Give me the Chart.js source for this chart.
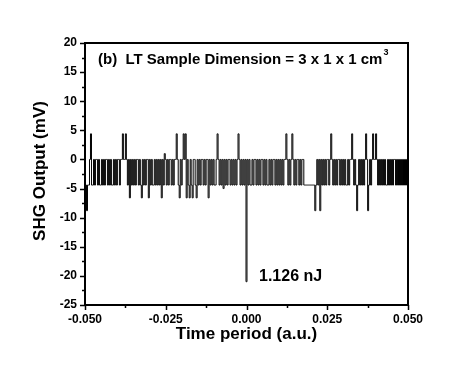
<!DOCTYPE html>
<html>
<head>
<meta charset="utf-8">
<script src="https://cdn.jsdelivr.net/npm/chart.js@4.4.1/dist/chart.umd.min.js"></script>
<style>
  html, body { margin: 0; padding: 0; background: #fff; }
  #wrap { width: 474px; height: 366px; }
</style>
</head>
<body>
<div id="wrap"><canvas id="chart" width="474" height="366"></canvas></div>
<script>
const shgOutput = [
  0, -4.4, -8.8, -4.4, -4.4, 0, 4.4, -4.4, -4.4, 0, -4.4, 0, 0, -4.4, 0, -4.4, -4.4, 0, -4.4, 0, -4.4, 0, 0, -4.4, 0,
  -4.4, 0, -4.4, -4.4, 0, -4.4, 0, -4.4, 0, 0, -4.4, 0, 0, 4.4, 0, 0, 4.4, 0, -4.4, 0, -6.6, 0, -4.4, 0, -4.4,
  0, -4.4, 0, 0, -4.4, 0, -4.4, -6.6, 0, -4.4, 0, -4.4, 0, 0, -6.6, 0, -4.4, 0, -4.4, -4.4, 0, -4.4, 0, -4.4, 0,
  -4.4, 0, -6.6, 0, -4.4, 1, 0, -4.4, 0, -4.4, 0, 0, -4.4, 0, -4.4, 0, 0, 4.4, 0, -4.4, -6.6, 0, -4.4, 0, 4.4,
  0, 4.4, -6.6, 0, -4.4, -6.6, 0, -4.4, -6.6, 0, 0, -4.4, -6.6, 0, -4.4, 0, -4.4, 0, 0, -4.4, 0, -4.4, 0, 0, -6.6,
  0, -4.4, 0, -4.4, 0, -4.4, -4.4, 0, 4.4, 0, -4.4, 0, -4.4, 0, -5, 0, -4.4, 0, -4.4, 0, 0, -4.4, 0, -4.4, 0,
  -4.4, 0, -4.4, 0, 4.4, 0, -4.4, 0, -4.4, 0, -4.4, 0, -21, 0, -4.4, 0, -4.4, -4.4, 0, -4.4, 0, 0, -4.4, 0, -4.4,
  0, -4.4, 0, 0, -4.4, 0, -4.4, 0, -4.4, -4.4, 0, -4.4, 0, -4.4, 0, 0, -4.4, 0, -4.4, 0, -4.4, 0, -4.4, 0, -4.4,
  0, 0, 4.4, 0, -4.4, 0, -4.4, 0, 4.4, 0, -4.4, 0, -4.4, 0, 0, -4.4, 0, -4.4, 0, 0, -4.4, -4.4, -4.4, -4.4, -4.4,
  -4.4, -4.4, -4.4, -4.4, -4.4, -4.4, -8.8, -4.4, 0, -4.4, 0, -8.8, 0, -4.4, 0, -4.4, 0, -4.4, 0, 0, -4.4, 0, 4.4, 0, -4.4,
  0, -4.4, 0, -4.4, 0, 0, -4.4, 0, -4.4, 0, -4.4, 0, -4.4, -4.4, 0, -4.4, 0, 0, 4.4, 0, -4.4, 0, -4.4, -8.8, -4.4,
  0, -4.4, 0, -4.4, 0, -4.4, 0, 4.4, 0, -8.8, -4.4, 0, -4.4, 0, 4.4, 0, 0, 4.4, 0, -4.4, 0, -4.4, 0, -4.4, 0,
  -4.4, 0, -4.4, -4.4, 0, -4.4, 0, -4.4, 0, -4.4, 0, 0, -4.4, 0, -4.4, 0, -4.4, 0, -4.4, 0, -4.4, 0, -4.4, 0, -4.4
];
const timeStart = -0.05;
const timeStep = 0.1 / (shgOutput.length - 1);

const xTicks = [-0.05, -0.025, 0, 0.025, 0.05];
const xMinorTicks = [-0.0375, -0.0125, 0.0125, 0.0375];
const yTicks = [-25, -20, -15, -10, -5, 0, 5, 10, 15, 20];
const yMinorTicks = [-22.5, -17.5, -12.5, -7.5, -2.5, 2.5, 7.5, 12.5, 17.5];

const FONT = '"Liberation Sans", Arial, sans-serif';

const points = shgOutput.map((v, i) => ({ x: timeStart + i * timeStep, y: v }));

const framePlugin = {
    id: 'frame',
    afterDraw(chart) {
        const { ctx, chartArea: a, scales } = chart;
        const sx = scales.x;
        const sy = scales.y;
        ctx.save();
        ctx.strokeStyle = '#000';
        ctx.lineWidth = 2;
        ctx.strokeRect(a.left, a.top, a.right - a.left, a.bottom - a.top);

        ctx.lineWidth = 1.5;
        ctx.beginPath();
        yTicks.forEach((v) => {
            const p = Math.round(sy.getPixelForValue(v)) + 0.5;
            ctx.moveTo(a.left - 5, p);
            ctx.lineTo(a.left, p);
        });
        yMinorTicks.forEach((v) => {
            const p = Math.round(sy.getPixelForValue(v)) + 0.5;
            ctx.moveTo(a.left - 3, p);
            ctx.lineTo(a.left, p);
        });
        xTicks.forEach((v) => {
            const p = Math.round(sx.getPixelForValue(v)) + 0.5;
            ctx.moveTo(p, a.bottom);
            ctx.lineTo(p, a.bottom + 5);
        });
        xMinorTicks.forEach((v) => {
            const p = Math.round(sx.getPixelForValue(v)) + 0.5;
            ctx.moveTo(p, a.bottom);
            ctx.lineTo(p, a.bottom + 3);
        });
        ctx.stroke();

        ctx.fillStyle = '#000';
        ctx.textBaseline = 'middle';

        // axis titles
        ctx.font = 'bold 17px ' + FONT;
        ctx.textAlign = 'center';
        ctx.fillText('Time period (a.u.)', (a.left + a.right) / 2, 334);
        ctx.save();
        ctx.translate(40, 171);
        ctx.rotate(-Math.PI / 2);
        ctx.fillText('SHG Output (mV)', 0, 0);
        ctx.restore();

        // panel label
        ctx.textAlign = 'left';
        ctx.font = 'bold 15px ' + FONT;
        const label = '(b)  LT Sample Dimension = 3 x 1 x 1 cm';
        ctx.fillText(label, 98, 60);
        const w = ctx.measureText(label).width;
        ctx.font = 'bold 9px ' + FONT;
        ctx.fillText('3', 98 + w + 1, 53);

        // pulse energy
        ctx.font = 'bold 16px ' + FONT;
        ctx.fillText('1.126 nJ', 259, 277);
        ctx.restore();
    },
};

new Chart(document.getElementById('chart'), {
    type: 'line',
    data: {
        datasets: [
            {
                data: points,
                borderColor: '#000',
                borderWidth: 1,
                pointRadius: 0,
                stepped: 'middle',
                fill: false,
            },
        ],
    },
    options: {
        responsive: false,
        animation: false,
        events: [],
        layout: { padding: { top: 43, right: 66, left: 0, bottom: 0 } },
        plugins: { legend: { display: false }, tooltip: { enabled: false } },
        scales: {
            x: {
                type: 'linear',
                min: -0.05,
                max: 0.05,
                afterFit: (s) => { s.height = 61; },
                afterBuildTicks: (s) => { s.ticks = xTicks.map((v) => ({ value: v })); },
                grid: { color: 'transparent', drawOnChartArea: false, tickLength: 5 },
                border: { display: false },
                ticks: {
                    padding: 2,
                    maxRotation: 0,
                    color: '#000',
                    font: { family: FONT, size: 12, weight: 'bold' },
                    callback: (v) => (Math.abs(v) < 1e-9 ? '0.000' : v.toFixed(3)),
                },
            },
            y: {
                min: -25,
                max: 20,
                afterFit: (s) => { s.width = 85; },
                afterBuildTicks: (s) => { s.ticks = yTicks.map((v) => ({ value: v })); },
                grid: { color: 'transparent', drawOnChartArea: false, tickLength: 5 },
                border: { display: false },
                ticks: {
                    padding: 3,
                    color: '#000',
                    font: { family: FONT, size: 12, weight: 'bold' },
                },
            },
        },
    },
    plugins: [framePlugin],
});
</script>
</body>
</html>
